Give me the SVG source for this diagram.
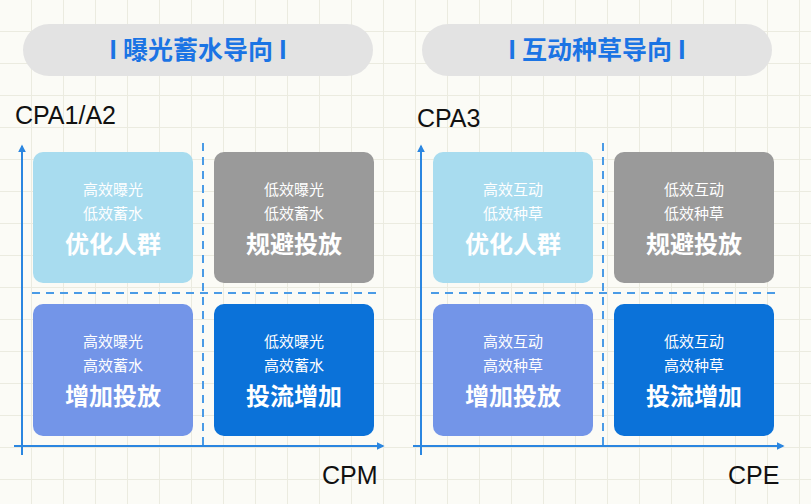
<svg xmlns="http://www.w3.org/2000/svg" width="811" height="504" viewBox="0 0 811 504">
<style>
.hdr{fill:#e3e3e3}
.ttl{font-family:"Noto Sans CJK SC",sans-serif;font-weight:bold;font-size:25px;fill:#1b74e4;text-anchor:middle}
.ax{font-family:"Liberation Sans","Noto Sans",sans-serif;font-size:25px;fill:#111}
.s{font-family:"Noto Sans CJK SC",sans-serif;font-size:15px;fill:#fff;text-anchor:middle}
.b{font-family:"Noto Sans CJK SC",sans-serif;font-size:24px;font-weight:bold;fill:#fff;text-anchor:middle}
.axis{stroke:#2b86e0;stroke-width:2;fill:none}
.dash{stroke:#4a9be6;stroke-width:2;stroke-dasharray:8,6;fill:none}
</style>
<defs>
<pattern id="g" width="32" height="32" patternUnits="userSpaceOnUse" x="0" y="0">
<path d="M31.5 0V32M0 31.5H32" stroke="#ebebe0" stroke-width="1"/>
</pattern>
<marker id="a" viewBox="0 0 10 10" refX="8" refY="5" markerWidth="4" markerHeight="4" orient="auto"><path d="M0 0L10 5L0 10z" fill="#2b86e0"/></marker>
</defs>
<rect width="811" height="504" fill="#fbfbf6"/>
<rect width="811" height="504" fill="url(#g)"/>

<g id="left-header"><rect class="hdr" x="23" y="24" width="350" height="52" rx="26"/><text class="ttl" x="198" y="59">I 曝光蓄水导向 I</text></g>
<g id="right-header"><rect class="hdr" x="422" y="24" width="350" height="52" rx="26"/><text class="ttl" x="597" y="59">I 互动种草导向 I</text></g>

<g id="connectors">
<path class="axis" d="M22 455V146" marker-end="url(#a)"/>
<path class="axis" d="M14 446H383" marker-end="url(#a)"/>
<path class="dash" d="M203 143V446M32 293H378"/>
<path class="axis" d="M421 455V146" marker-end="url(#a)"/>
<path class="axis" d="M413 446H783" marker-end="url(#a)"/>
<path class="dash" d="M603 143V446M431 293H778"/>
</g>

<text class="ax" x="15" y="124">CPA1/A2</text>
<text class="ax" x="322" y="484">CPM</text>
<text class="ax" x="417" y="127">CPA3</text>
<text class="ax" x="728" y="484">CPE</text>

<g id="l-tl"><rect x="33" y="152" width="160" height="131" rx="10" fill="#a8dcef"/><text class="s" x="113" y="195">高效曝光</text><text class="s" x="113" y="219">低效蓄水</text><text class="b" x="113" y="253">优化人群</text></g>
<g id="l-tr"><rect x="214" y="152" width="160" height="131" rx="10" fill="#9a9a9a"/><text class="s" x="294" y="195">低效曝光</text><text class="s" x="294" y="219">低效蓄水</text><text class="b" x="294" y="253">规避投放</text></g>
<g id="l-bl"><rect x="33" y="304" width="160" height="132" rx="10" fill="#7395e8"/><text class="s" x="113" y="347">高效曝光</text><text class="s" x="113" y="371">高效蓄水</text><text class="b" x="113" y="405">增加投放</text></g>
<g id="l-br"><rect x="214" y="304" width="160" height="132" rx="10" fill="#0b72d9"/><text class="s" x="294" y="347">低效曝光</text><text class="s" x="294" y="371">高效蓄水</text><text class="b" x="294" y="405">投流增加</text></g>

<g id="r-tl"><rect x="433" y="152" width="160" height="131" rx="10" fill="#a8dcef"/><text class="s" x="513" y="195">高效互动</text><text class="s" x="513" y="219">低效种草</text><text class="b" x="513" y="253">优化人群</text></g>
<g id="r-tr"><rect x="614" y="152" width="160" height="131" rx="10" fill="#9a9a9a"/><text class="s" x="694" y="195">低效互动</text><text class="s" x="694" y="219">低效种草</text><text class="b" x="694" y="253">规避投放</text></g>
<g id="r-bl"><rect x="433" y="304" width="160" height="132" rx="10" fill="#7395e8"/><text class="s" x="513" y="347">高效互动</text><text class="s" x="513" y="371">高效种草</text><text class="b" x="513" y="405">增加投放</text></g>
<g id="r-br"><rect x="614" y="304" width="160" height="132" rx="10" fill="#0b72d9"/><text class="s" x="694" y="347">低效互动</text><text class="s" x="694" y="371">高效种草</text><text class="b" x="694" y="405">投流增加</text></g>
</svg>
